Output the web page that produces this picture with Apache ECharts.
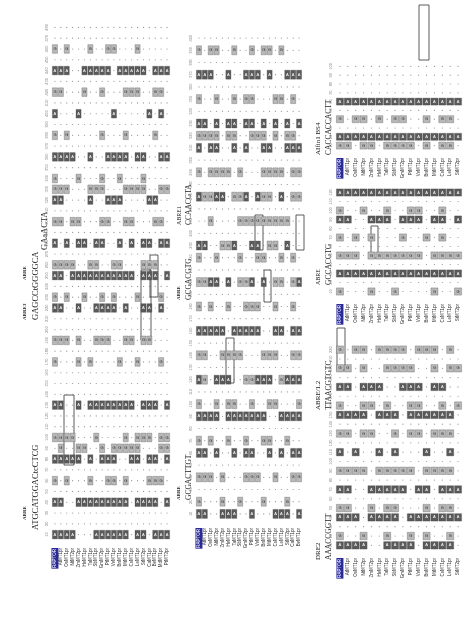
<!DOCTYPE html><html><head><meta charset="utf-8"><script src="https://cdn.jsdelivr.net/npm/echarts@6/dist/echarts.min.js"></script>
<style>html,body{margin:0;background:#fff}#c{width:474px;height:626px}</style></head><body><div id="c"></div><script>
// Row strings: each char is one sequence; '.' = conserved dot, 'L' = light box, 'D' = dark box
const p1Rows=[
"....................","....................","L.L...L..LL...L.....","....................","DDD..DDDDD.DDDDD.DDD","....................",
"LL...L..L...LLL..LL.","....................","D...D.....D.....D.D.","....................","L.L.....L...L....L..","....................",
"DDDD..D..DDDD.DD..DD","....................","L...L...L..L...L....","LLL...LLL...LLLL..LL","DD....D..DDD....DD..","....................",
"LL.LL...LL..LL...LL.","....................","D.D.DD.DD..D.D.DD.DD","....................","LLLL..LL..LL...LLL..","DD.DDDDDDDDDDD.DDD.D",
"....................","L.L..L..L.L...L...L.","DD..D..DDDD.D..DD.D.","....................","....................","LLL.L..LLL..LL.LL...",
"....................","L...L.L....L..L...L.","....................","....................","....................","DD..D.DDDDDDDD.DDD.D",
"....................","....................","LLLL...L....L.LLL.LL",".L..LL..L.LLLLL...LL","DDDDD.D.DDD..DD.DD.D","....................",
"L.L...L..LL.L...LLL.","....................","DD..DDDDDDDDD.DDDD.D","....................","....................","DDDD...DDDDDD.DD.DDD"];
const p2Rows=[
"..................","L.LL..L..L.LL.L...","..................","DDD..D..DDD.D..DDD","..................","L..L..L.LL...LL.L.",
"..................","DD.D.DD.DD.D.D.D.D","LLLL.LL..LLL.L.LL.","D.DD..D.D..DD..DDD","..................","L.LLLL.L...LLLL.LL",
"..................","DLLDD.LLD.DLL.D.LL","..................","..L....LLLLLLLLL..","..................","DD..LLD..DD.LL.D..",
"L..L...L..LL..L.L.","..................","LLDD.D.LLD.D.LL.LD","..................","L.L..L..LLL..L..L.","..................",
"DDDDD.DDDDD..DD.DD","..................","LL..LLLL...LLL..LL","..................","DL.DDD..LLDDD.LDDD","..................",
"L..L.LL..L..LL...L","DDDD.DDDDDDD..DDDD","..................","L.L..L..L..LL..L..","DD.D..D.DD..D.D.DD","..................",
"LLL.L...LLL..L..LL","..................","L...L..L...L...L..","DD..DDD..D...DDD.D"];
const p3aRows=["................","................","................","................","DDDDDDDDDDDDDDDD","................","L.LL.L.LL..L.LL.","................","DDDDDDDDDDDDDDDD","LL.LL.LLLL.L.LL."];
const p3bRows=["DDDDDDDDDDDDDDDD","................","L..L..L..LL..L..","DD..DDD.DDD.DD.D","................","L.L.L...L..L.L..","................","LLL.LLLLLLL.LLLL","................","DDDDDDDDDDDDDDDD","................","L...L..L....L..L"];
const p3cRows=["L.LL.LLLL.LLL.L.","................","LL.L..LLLL..L.LL","................","DD.DDD..DDD.DD..","................","L..LL.L..LL..L.L","DDDD.DDD.DDDDDD.","................","LL.LL..L.LL.LLL.","................","D.D..D.D...D..D.","................","LLLL.LLLLL.LLLL.","................","DD..DDDDD.DD.DDD","................","LL..L.LL...L.LL.","DDD.DDDD.DDDDDDD","................","L..L..L..L.L..L.","DDDD..DDDD.DDDD."];
const seqNames1=["RAPTOR","AtMT1pr","OsMT1pr","NtMT2pr","ZmMT2pr","HvMT1pr","TaMT1pr","SbMT1pr","GmMT2pr","PtMT1pr","VvMT1pr","BnMT1pr","MtMT1pr","CsMT1pr","LeMT1pr","StMT2pr","CaMT1pr","BvMT1pr","MdMT1pr","PtMT3pr"];

const panels=[
 {rows:p1Rows,left:52,top:22,width:118,height:518},
 {rows:p2Rows,left:196,top:32,width:106,height:488},
 {rows:p3aRows,left:336,top:62,width:126,height:88},
 {rows:p3bRows,left:336,top:188,width:126,height:108},
 {rows:p3cRows,left:336,top:345,width:126,height:205}
];
const grid=[],xAxis=[],yAxis=[],series=[];
panels.forEach((p,i)=>{
 const n=p.rows[0].length,m=p.rows.length;
 grid.push({left:p.left,top:p.top,width:p.width,height:p.height});
 xAxis.push({type:'category',gridIndex:i,data:seqNames1.slice(0,n),position:'bottom',axisLine:{show:false},axisTick:{show:false},
  axisLabel:{rotate:90,fontSize:4.5,color:'#333',interval:0,
   formatter:(v,k)=>k===0?'{b|'+v+'}':v,rich:{b:{backgroundColor:'#2a2a9a',color:'#fff',fontSize:4.5,padding:[1,1]}}}});
 yAxis.push({type:'category',gridIndex:i,inverse:true,data:p.rows.map((_,k)=>String((m-k)*10)),axisLine:{show:false},axisTick:{show:false},
  axisLabel:{fontSize:4,color:'#888',rotate:90,margin:3}});
 const heat=[],dots=[];
 p.rows.forEach((r,y)=>{for(let x=0;x<n;x++){const c=r[x];if(c==='L')heat.push([x,y,1]);else if(c==='D')heat.push([x,y,2]);else dots.push([x,y]);}});
 series.push({type:'scatter',xAxisIndex:i,yAxisIndex:i,data:dots,symbolSize:1.2,itemStyle:{color:'#777'},silent:true});
 series.push({type:'custom',xAxisIndex:i,yAxisIndex:i,data:heat,renderItem:(params,api)=>{
   const pt=api.coord([api.value(0),api.value(1)]);const s=api.size([1,1]);const v=api.value(2);
   const h=Math.min(s[1]*0.8,9);
   return {type:'group',children:[{type:'rect',shape:{x:pt[0]-s[0]/2+0.4,y:pt[1]-h/2,width:s[0]-0.8,height:h},style:{fill:v===2?'#5a5a5a':'#b8b8b8',stroke:'#444',lineWidth:0.3}},
     {type:'text',style:{text:v===2?'A':'G',x:pt[0],y:pt[1],fill:v===2?'#fff':'#222',fontSize:4,align:'center',verticalAlign:'middle'}}]};
 }});
});
function vt(x,y,t,fs,bold){return {type:'text',x:x,y:y,rotation:Math.PI/2,style:{text:t,fontSize:fs,fontFamily:'Liberation Serif',fontWeight:bold?'bold':'normal',fill:'#222'}};}
const graphic=[
 vt(22,520,'ABRE',5,true),vt(31,530,'ATGCATGGACtcCTCG',8.5),
 vt(22,320,'ABRE3',5,true),vt(22,280,'ABRE',5,true),
 vt(31,320,'GAGCCtGGGGCA',8.5),vt(40,250,'GAaACTA',8.5),
 vt(176,500,'ABRE',5,true),vt(185,500,'GCGACTTGT',7.5),
 vt(176,300,'ABRE',5,true),vt(185,300,'GCGACGTG',7.5),
 vt(176,225,'ABRE1',6),vt(185,225,'CCAACGTA',7.5),
 vt(315,155,'AIfin1 BS4',7),vt(325,155,'CACCACCACTT',7.5),
 vt(315,285,'ABRE',6),vt(325,285,'GCCACGTG',7.5),
 vt(315,410,'ABRE/1.2',7),vt(325,410,'TTAACGTGTC',7.5),
 vt(315,560,'DRE2',7),vt(325,560,'AAACCGGTT',7.5),
 {type:'rect',shape:{x:64,y:395,width:10,height:70},style:{fill:'none',stroke:'#333',lineWidth:0.8}},
 {type:'rect',shape:{x:141,y:270,width:10,height:70},style:{fill:'none',stroke:'#333',lineWidth:0.8}},
 {type:'rect',shape:{x:150,y:255,width:8,height:42},style:{fill:'none',stroke:'#333',lineWidth:0.8}},
 {type:'rect',shape:{x:255,y:215,width:8,height:35},style:{fill:'none',stroke:'#333',lineWidth:0.8}},
 {type:'rect',shape:{x:296,y:215,width:8,height:35},style:{fill:'none',stroke:'#333',lineWidth:0.8}},
 {type:'rect',shape:{x:264,y:270,width:7,height:32},style:{fill:'none',stroke:'#333',lineWidth:0.8}},
 {type:'rect',shape:{x:419,y:5,width:10,height:55},style:{fill:'none',stroke:'#333',lineWidth:0.8}},
 {type:'rect',shape:{x:371,y:226,width:7,height:32},style:{fill:'none',stroke:'#333',lineWidth:0.8}},
 {type:'rect',shape:{x:337,y:328,width:8,height:42},style:{fill:'none',stroke:'#333',lineWidth:0.8}},
 {type:'rect',shape:{x:226,y:338,width:8,height:45},style:{fill:'none',stroke:'#333',lineWidth:0.8}}
];
const chart=echarts.init(document.getElementById('c'));
chart.setOption({animation:false,grid,xAxis,yAxis,series,graphic});
</script></body></html>
